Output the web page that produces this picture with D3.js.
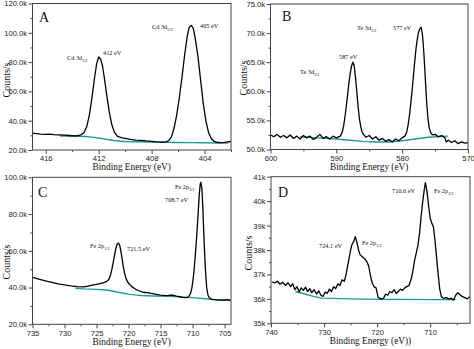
<!DOCTYPE html>
<html>
<head>
<meta charset="utf-8">
<script src="https://cdn.jsdelivr.net/npm/d3@7/dist/d3.min.js"></script>
<style>
body { margin:0; background:#fff; }
svg { display:block; }
.tick text { font-family:"Liberation Sans", Arial, sans-serif; font-size:7.6px; fill:#222; }
.domain { display:none; }
.tick line { stroke:#444; }
.serif { font-family:"Liberation Serif", "Times New Roman", serif; fill:#111; }
</style>
</head>
<body>
<div id="chart"></div>
<script>
// XPS spectra, counts in thousands (k), binding energy in eV

var curveA = [[417,31.5],[416.7,31.2],[416.4,30.9],[416,30.7],[415.7,30.8],[415.4,30.5],[415,30.3],[414.6,30.1],[414.2,29.9],[413.8,29.7],[413.5,29.9],[413.3,30.5],[413.1,32],[412.9,36],[412.7,44],[412.5,56],[412.3,70],[412.15,79],[412,83.5],[411.85,82],[411.7,77],[411.55,68],[411.4,58],[411.2,46],[411,37],[410.8,32],[410.6,29.5],[410.3,28.5],[410,28],[409.6,27.2],[409.2,26.8],[408.8,26.6],[408.4,26.2],[408,25.9],[407.6,25.6],[407.2,25.4],[406.9,25.6],[406.7,26.5],[406.5,29],[406.3,35],[406.1,44],[405.9,56],[405.7,70],[405.5,85],[405.3,98],[405.15,104],[405,105],[404.85,103],[404.7,96],[404.5,84],[404.3,68],[404.1,52],[403.9,40],[403.7,32],[403.5,28],[403.3,26],[403.1,25.3],[402.8,25],[402.5,25.2],[402.2,25.6],[402,25.8]];
var baseA = [[414.9,29.6],[414.5,29.5],[414,29.4],[413.5,29.4],[413,29.2],[412.5,28.8],[412,28.2],[411.5,27.4],[411,26.7],[410.5,26.1],[410,25.8],[409,25.6],[408,25.5],[407,25.3],[406,25.1],[405,25],[404,24.9],[403,24.8],[402.2,24.8]];

var curveB = [[600,52.5],[599.5,52.2],[599,52.6],[598.5,52.1],[598,52.4],[597.5,52],[597,52.5],[596.5,51.9],[596,52.3],[595.5,51.8],[595,52.4],[594.5,52],[594,52.3],[593.5,51.7],[593,52.1],[592.5,52.6],[592,51.9],[591.5,52.2],[591,51.8],[590.5,52.3],[590,52],[589.4,52.3],[589.1,53],[588.9,54],[588.7,55.5],[588.5,57.3],[588.3,59.3],[588.1,61.3],[587.9,63],[587.7,64.3],[587.5,65],[587.3,64.5],[587.1,62.5],[586.9,60],[586.7,57.5],[586.5,55.3],[586.3,54],[586.1,53],[585.8,52.5],[585.5,52.1],[585,52.4],[584.5,51.8],[584,52.2],[583.5,51.6],[583,51.9],[582.5,51.4],[582,51.7],[581.5,51.3],[581,51.8],[580.5,51.5],[580,52],[579.6,52.3],[579.3,53],[579.1,54.2],[578.9,55.8],[578.7,57.8],[578.5,60],[578.3,62.5],[578.1,65],[577.9,67.3],[577.7,69],[577.5,70.2],[577.3,70.8],[577.1,71],[576.9,69.5],[576.7,66.5],[576.5,62.5],[576.3,58.5],[576.1,55.5],[575.9,53.8],[575.7,53],[575.4,52.5],[575,52.6],[574.5,52.2],[574,52.4],[573.5,52],[573.3,51.3],[573,51.6],[572.5,51.2],[572,51.5],[571.5,51],[571,51.3],[570.5,51.1],[570,51.2]];
var baseB = [[595.5,52.2],[593,52],[590,51.8],[588,51.6],[586,51.4],[584,51.3],[582,51.3],[580,51.5],[578,51.8],[576,52.1],[573,52.3]];

var curveC = [[735,45.5],[734,44.6],[733,43.6],[732,42.8],[731,42],[730,41.4],[729,40.9],[728,40.5],[727,40.4],[726.5,40.6],[726,41],[725.5,41.4],[725,41.7],[724.5,42.1],[724,42.6],[723.5,43.2],[723.2,44],[723,45],[722.8,47],[722.6,50],[722.4,53.5],[722.2,57.5],[722,61],[721.8,63.5],[721.6,64.2],[721.4,63.2],[721.2,60],[721,55.5],[720.8,51],[720.6,47.5],[720.4,45],[720.2,43.5],[720,42.3],[719.5,40.5],[719,39.3],[718.5,38.4],[718,37.8],[717.5,37.3],[717,37.2],[716.5,36.8],[716,36.5],[715.5,36.2],[715,35.9],[714.5,35.7],[714,35.6],[713.5,35.9],[713,35.8],[712.5,35.3],[712,35],[711.5,34.7],[711,34.5],[710.7,34.8],[710.5,35.5],[710.3,37],[710.1,40],[709.9,45],[709.7,52],[709.5,61],[709.3,71],[709.1,82],[708.95,91],[708.8,96.5],[708.7,97.3],[708.55,94],[708.4,84],[708.2,65],[708,50],[707.8,40],[707.6,36],[707.4,34.5],[707.2,34],[707,33.6],[706.5,33.4],[706,33.2],[705.5,33.3],[705,33.2],[704.5,33.5],[704.2,33],[704,33.3]];
var baseC = [[728.3,39.6],[727,39.3],[725,39],[724,38.8],[723,38.4],[722,37.7],[721,37],[720,36.4],[719,36],[718,35.7],[716,35.4],[714,35.2],[712,34.9],[710,34.5],[708,33.9],[706,33.3],[704.2,33]];

var curveD = [[739.8,36.7],[739.3,36.65],[738.8,36.72],[738.3,36.6],[737.8,36.68],[737.3,36.55],[736.8,36.66],[736.3,36.5],[735.9,36.62],[735.5,36.38],[735.1,36.5],[734.7,36.28],[734.3,36.45],[733.9,36.35],[733.5,36.48],[733.1,36.3],[732.7,36.42],[732.3,36.25],[731.9,36.38],[731.4,36.2],[731,36.33],[730.6,36.15],[730.2,36.1],[729.8,36.28],[729.4,36.22],[729,36.4],[728.6,36.3],[728.2,36.5],[727.8,36.42],[727.4,36.62],[727,36.55],[726.6,36.78],[726.2,36.72],[725.9,36.95],[725.6,37.3],[725.3,37.65],[725,38],[724.7,38.25],[724.4,38.35],[724.1,38.55],[723.8,38.3],[723.5,38],[723.2,37.8],[722.8,37.72],[722.4,37.65],[722,37.55],[721.6,37.35],[721.3,37],[721,36.7],[720.6,36.5],[720.2,36.45],[719.8,36.05],[719.3,36],[718.8,36.02],[718.4,36.2],[718,36.15],[717.6,36.3],[717.2,36.25],[716.8,36.38],[716.4,36.22],[716,36.3],[715.6,36.4],[715.2,36.35],[714.8,36.45],[714.4,36.5],[714,36.55],[713.6,36.8],[713.3,37.1],[713,37.5],[712.6,37.9],[712.3,38.2],[712,38.7],[711.7,39.4],[711.4,40],[711.1,40.5],[710.9,40.76],[710.6,40.4],[710.3,39.8],[710,39.3],[709.7,39.1],[709.4,38.95],[709.1,38.4],[708.8,37.7],[708.5,37],[708.2,36.4],[707.9,36.1],[707.5,36.02],[707,36.05],[706.5,36],[706,36.02],[705.6,35.95],[705.2,36.15],[704.8,36.25],[704.4,36.18],[704,36.1],[703.5,36.05],[703,36],[702.5,36.1]];
var baseD = [[735.4,36.3],[734,36.22],[732,36.1],[730.5,36.03],[725,36],[720,35.98],[715,35.98],[710,35.97],[705.2,35.97]];

var ticksXA = [416,412,408,404], minorXA = [414,410,406,402];
var ticksXB = [600,590,580,570], minorXB = [595,585,575];
var ticksXC = [735,730,725,720,715,710,705], minorXC = [732.5,727.5,722.5,717.5,712.5,707.5];
var ticksXD = [740,730,720,710], minorXD = [735,725,715,705];

var ticksYA = [20,40,60,80,100,120], minorYA = [30,50,70,90,110];
var ticksYB = [50,55,60,65,70,75], minorYB = [52.5,57.5,62.5,67.5,72.5];
var ticksYC = [20,40,60,80,100], minorYC = [30,50,70,90];
var ticksYD = [35,36,37,38,39,40,41], minorYD = [35.5,36.5,37.5,38.5,39.5,40.5];

var panels = [
  {id:"A", x0:32.5, x1:231, y0:3.5, y1:150, xDom:[417,402], yDom:[20,120], curve:curveA, base:baseA,
   xt:ticksXA, xm:minorXA, yt:ticksYA, ym:minorYA, fmt:function(d){return d.toFixed(1)+"k"},
   letter:[39,22], xlab:"Binding Energy (eV)", xlabY:170, ylab:[6,80],
   notes:[["Cd 3d","5/2",152,29],["405 eV","",200,28],["Cd 3d","3/2",67,60],["412 eV","",103,55]]},
  {id:"B", x0:270.5, x1:468, y0:4, y1:149.5, xDom:[600,570], yDom:[50,75], curve:curveB, base:baseB,
   xt:ticksXB, xm:minorXB, yt:ticksYB, ym:minorYB, fmt:function(d){return d.toFixed(1)+"k"},
   letter:[282,21], xlab:"Binding Energy (eV)", xlabY:170, ylab:[243,78],
   notes:[["Te 3d","3/2",300,74],["587 eV","",339,59],["Te 3d","5/2",357,30],["577 eV","",393,30]]},
  {id:"C", x0:32.5, x1:231, y0:177.3, y1:324.3, xDom:[735,704], yDom:[20,100], curve:curveC, base:baseC,
   xt:ticksXC, xm:minorXC, yt:ticksYC, ym:minorYC, fmt:function(d){return d.toFixed(1)+"k"},
   letter:[38,197], xlab:"Binding Energy (eV)", xlabY:345, ylab:[6,262],
   notes:[["Fe 2p","3/2",175,189],["708.7 eV","",165,202],["Fe 2p","1/2",90,248],["721.5 eV","",127,251]]},
  {id:"D", x0:271, x1:470, y0:176.7, y1:323.3, xDom:[740,702.5], yDom:[35,41], curve:curveD, base:baseD,
   xt:ticksXD, xm:minorXD, yt:ticksYD, ym:minorYD, fmt:function(d){return d+"k"},
   letter:[278,197], xlab:"Binding Energy (eV))", xlabY:344, ylab:[248,253],
   notes:[["710.6 eV","",392,193],["Fe 2p","3/2",434,193],["724.1 eV","",319,248],["Fe 2p","1/2",362,245]]}
];

var svg = d3.select("#chart").append("svg")
  .attr("width",474).attr("height",349);

panels.forEach(function(p){
  var g = svg.append("g");
  var x = d3.scaleLinear().domain(p.xDom).range([p.x0,p.x1]);
  var y = d3.scaleLinear().domain(p.yDom).range([p.y1,p.y0]);

  // minor ticks
  g.append("g").attr("transform","translate(0,"+p.y1+")")
    .call(d3.axisBottom(x).tickValues(p.xm).tickSize(2).tickFormat(""));
  g.append("g").attr("transform","translate("+p.x0+",0)")
    .call(d3.axisLeft(y).tickValues(p.ym).tickSize(2).tickFormat(""));
  // major ticks
  g.append("g").attr("transform","translate(0,"+p.y1+")")
    .call(d3.axisBottom(x).tickValues(p.xt).tickSize(4).tickPadding(2).tickFormat(d3.format("d")));
  g.append("g").attr("transform","translate("+p.x0+",0)")
    .call(d3.axisLeft(y).tickValues(p.yt).tickSize(4).tickPadding(1.5).tickFormat(p.fmt));

  g.append("clipPath").attr("id","clip"+p.id).append("rect")
    .attr("x",p.x0).attr("y",p.y0).attr("width",p.x1-p.x0).attr("height",p.y1-p.y0);

  var line = d3.line().x(function(d){return x(d[0])}).y(function(d){return y(d[1])});

  g.append("path").datum(p.base)
    .attr("d",line).attr("fill","none")
    .attr("stroke","#1f9a94").attr("stroke-width",1.4)
    .attr("clip-path","url(#clip"+p.id+")");
  g.append("path").datum(p.curve)
    .attr("d",line).attr("fill","none")
    .attr("stroke","#000").attr("stroke-width",1.3).attr("stroke-linejoin","round")
    .attr("clip-path","url(#clip"+p.id+")");

  g.append("rect")
    .attr("x",p.x0).attr("y",p.y0).attr("width",p.x1-p.x0).attr("height",p.y1-p.y0)
    .attr("fill","none").attr("stroke","#444").attr("stroke-width",1);

  g.append("text").attr("class","serif")
    .attr("x",p.letter[0]).attr("y",p.letter[1])
    .style("font-size","14px").text(p.id);

  g.append("text").attr("class","serif")
    .attr("x",(p.x0+p.x1)/2).attr("y",p.xlabY)
    .attr("text-anchor","middle").style("font-size","9.3px").text(p.xlab);

  g.append("text").attr("class","serif")
    .attr("transform","translate("+p.ylab[0]+","+p.ylab[1]+") rotate(-90)")
    .attr("text-anchor","middle").attr("dy","0.35em")
    .style("font-size","10px").text("Counts/s");

  p.notes.forEach(function(n){
    var t = g.append("text").attr("class","serif")
      .attr("x",n[2]).attr("y",n[3]).style("font-size","6.3px").text(n[0]);
    if (n[1]) {
      t.append("tspan").attr("dy","1.6").style("font-size","4.2px").text(n[1]);
    }
  });
});
</script>
</body>
</html>
